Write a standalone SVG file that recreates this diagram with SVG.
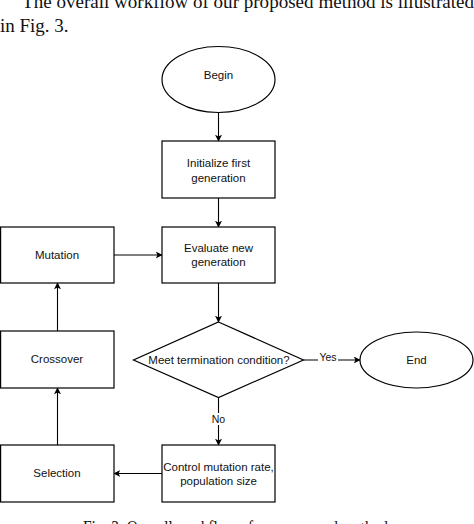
<svg xmlns="http://www.w3.org/2000/svg" width="474" height="524" viewBox="0 0 474 524">
<defs>
<style>
.shape{fill:#fff;stroke:#000;stroke-width:1.2}
.lbl{font-family:"Liberation Sans",Arial,sans-serif;font-size:11.5px;fill:#111;text-anchor:middle}
.edge{fill:none;stroke:#000;stroke-width:1.1}
.body{font-family:"Liberation Serif","Times New Roman",serif;font-size:19px;fill:#111}
.el{font-family:"Liberation Sans",Arial,sans-serif;font-size:10.5px;fill:#111;text-anchor:middle}
</style>
<marker id="arr" viewBox="0 0 10 10" refX="9" refY="5" markerWidth="7" markerHeight="7" orient="auto" markerUnits="userSpaceOnUse">
<path d="M0,0 L10,5 L0,10 L2.5,5 z" fill="#000"/>
</marker>
</defs>
<rect width="474" height="524" fill="#fff"/>
<text class="body" x="22" y="8" textLength="452" lengthAdjust="spacingAndGlyphs">The overall workflow of our proposed method is illustrated</text>
<text class="body" x="0" y="32">in Fig. 3.</text>

<g id="connectors">
<line class="edge" x1="218.5" y1="113" x2="218.5" y2="141" marker-end="url(#arr)"/>
<line class="edge" x1="218.5" y1="198" x2="218.5" y2="227" marker-end="url(#arr)"/>
<line class="edge" x1="218.5" y1="283" x2="218.5" y2="322" marker-end="url(#arr)"/>
<line class="edge" x1="114" y1="255" x2="162" y2="255" marker-end="url(#arr)"/>
<line class="edge" x1="303.5" y1="360" x2="360" y2="360" marker-end="url(#arr)"/>
<line class="edge" x1="218.5" y1="397.5" x2="218.5" y2="445" marker-end="url(#arr)"/>
<line class="edge" x1="162" y1="473.5" x2="114" y2="473.5" marker-end="url(#arr)"/>
<line class="edge" x1="57.5" y1="445" x2="57.5" y2="388" marker-end="url(#arr)"/>
<line class="edge" x1="57.5" y1="331" x2="57.5" y2="283" marker-end="url(#arr)"/>
<rect x="318" y="351" width="20" height="12" fill="#fff"/>
<text class="el" x="328" y="361">Yes</text>
<rect x="210" y="413" width="17" height="12" fill="#fff"/>
<text class="el" x="218.5" y="423">No</text>
</g>

<g id="begin">
<ellipse class="shape" cx="218.5" cy="79.5" rx="56.5" ry="33"/>
<text class="lbl" x="218.5" y="79">Begin</text>
</g>
<g id="init">
<rect class="shape" x="162" y="141" width="113" height="57"/>
<text class="lbl" x="218.5" y="167">Initialize first</text>
<text class="lbl" x="218.5" y="182">generation</text>
</g>
<g id="evaluate">
<rect class="shape" x="162" y="227" width="113" height="56"/>
<text class="lbl" x="218.5" y="252">Evaluate new</text>
<text class="lbl" x="218.5" y="266">generation</text>
</g>
<g id="mutation">
<rect class="shape" x="0.6" y="227" width="113.4" height="56" style="stroke-width:1.2"/>
<text class="lbl" x="57" y="259">Mutation</text>
</g>
<g id="decision">
<polygon class="shape" points="218.5,322 303.5,360 218.5,397.5 133.5,360"/>
<text class="lbl" x="219" y="364">Meet termination condition?</text>
</g>
<g id="end">
<ellipse class="shape" cx="416.5" cy="360" rx="56.5" ry="28"/>
<text class="lbl" x="416.5" y="364">End</text>
</g>
<g id="crossover">
<rect class="shape" x="0.6" y="331" width="113.4" height="57"/>
<text class="lbl" x="57" y="363">Crossover</text>
</g>
<g id="selection">
<rect class="shape" x="0.6" y="445" width="113.4" height="57"/>
<text class="lbl" x="57" y="477">Selection</text>
</g>
<g id="control">
<rect class="shape" x="162" y="445" width="113" height="57"/>
<text class="lbl" x="218.5" y="470.5">Control mutation rate,</text>
<text class="lbl" x="218.5" y="485">population size</text>
</g>

<text class="body" x="83" y="534" textLength="305" lengthAdjust="spacingAndGlyphs">Fig. 3. Overall workflow of our proposed method</text>
</svg>
